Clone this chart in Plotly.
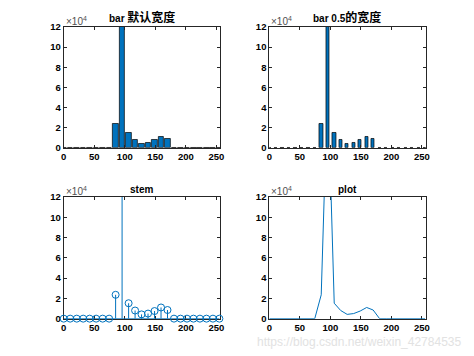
import plotly.graph_objects as go

# histogram bin centres (imhist with 25 bins) and pixel counts
bin_centers = [0, 10.6, 21.3, 31.9, 42.5, 53.1, 63.8, 74.4, 85, 95.6, 106.3, 116.9, 127.5,
               138.1, 148.8, 159.4, 170, 180.6, 191.3, 201.9, 212.5, 223.1, 233.8, 244.4, 255]
counts = [0, 0, 0, 0, 0, 0, 0, 0, 23500, 235000, 15200, 8000, 4200, 5000, 7500, 11000, 8500,
          0, 0, 0, 0, 0, 0, 0, 0]

titles = ["bar <span style='font-size:12px'>默认宽度</span>",
          "bar 0.5<span style='font-size:12px'>的宽度</span>", "stem", "plot"]
x_ticks = [0, 50, 100, 150, 200, 250]
y_ticks = [0, 20000, 40000, 60000, 80000, 100000, 120000]
y_tick_labels = ["0", "2", "4", "6", "8", "10", "12"]
x_range = [0, 256]
y_range = [0, 120000]

BLUE = "#0072BD"
AXC = "#262626"
FONT = "Liberation Sans, Arial, sans-serif"

spacing = bin_centers[1] - bin_centers[0]

doms_x = [[0.13, 0.4647], [0.5703, 0.905], [0.13, 0.4647], [0.5703, 0.905]]
doms_y = [[0.5888, 0.9396], [0.5888, 0.9396], [0.0938, 0.4466], [0.0938, 0.4466]]

fig = go.Figure()

# 1: bar default width
fig.add_trace(go.Bar(x=bin_centers, y=counts, width=spacing * 0.85,
                     marker=dict(color=BLUE, line=dict(color="black", width=0.7)),
                     xaxis="x", yaxis="y"))
# 2: bar width 0.5
fig.add_trace(go.Bar(x=bin_centers, y=counts, width=spacing * 0.5,
                     marker=dict(color=BLUE, line=dict(color="black", width=0.7)),
                     xaxis="x2", yaxis="y2"))
# 3: stem
sx, sy = [], []
for xv, yv in zip(bin_centers, counts):
    sx += [xv, xv, None]
    sy += [0, yv, None]
fig.add_trace(go.Scatter(x=sx, y=sy, mode="lines", line=dict(color=BLUE, width=1),
                         xaxis="x3", yaxis="y3"))
fig.add_trace(go.Scatter(x=[bin_centers[0], bin_centers[-1]], y=[0, 0], mode="lines",
                         line=dict(color=BLUE, width=1), xaxis="x3", yaxis="y3", cliponaxis=False))
mx = [xv for xv, yv in zip(bin_centers, counts) if yv <= y_range[1]]
my = [yv for yv in counts if yv <= y_range[1]]
fig.add_trace(go.Scatter(x=mx, y=my, mode="markers",
                         marker=dict(symbol="circle-open", size=7, color=BLUE, line=dict(width=1)),
                         xaxis="x3", yaxis="y3", cliponaxis=False))
# 4: plot
fig.add_trace(go.Scatter(x=bin_centers, y=counts, mode="lines", line=dict(color=BLUE, width=1),
                         xaxis="x4", yaxis="y4"))

layout = dict(width=474, height=356, margin=dict(l=0, r=0, t=0, b=0),
              paper_bgcolor="white", plot_bgcolor="white", showlegend=False,
              font=dict(family=FONT, size=10, color=AXC), bargap=0)

annotations = []
for i in range(4):
    sfx = "" if i == 0 else str(i + 1)
    layer = "above traces" if i < 2 else "below traces"
    layout["xaxis" + sfx] = dict(domain=doms_x[i], anchor="y" + sfx, range=x_range,
                                 tickvals=x_ticks, ticks="inside", ticklen=3, tickcolor=AXC,
                                 showline=True, linecolor=AXC, linewidth=1, mirror="ticks",
                                 showgrid=False, zeroline=False, layer=layer,
                                 tickfont=dict(family=FONT, size=9.5, color="black", weight="bold"))
    layout["yaxis" + sfx] = dict(domain=doms_y[i], anchor="x" + sfx, range=y_range,
                                 tickvals=y_ticks, ticktext=y_tick_labels, ticks="inside",
                                 ticklen=3, tickcolor=AXC, showline=True, linecolor=AXC,
                                 linewidth=1, mirror="ticks", showgrid=False, zeroline=False,
                                 layer=layer,
                                 tickfont=dict(family=FONT, size=9.5, color="black", weight="bold"))
    annotations.append(dict(text="<b>" + titles[i] + "</b>", xref="paper", yref="paper",
                            x=(doms_x[i][0] + doms_x[i][1]) / 2, y=doms_y[i][1],
                            xanchor="center", yanchor="bottom", yshift=0, showarrow=False,
                            font=dict(family="Liberation Sans, Noto Sans CJK SC, sans-serif",
                                      size=10, color="black")))
    annotations.append(dict(text="×10<sup>4</sup>", xref="paper", yref="paper",
                            x=doms_x[i][0], y=doms_y[i][1], xanchor="left", yanchor="bottom",
                            yshift=-2, showarrow=False,
                            font=dict(family=FONT, size=10, color="#505050")))

annotations.append(dict(text="https://blog.csdn.net/weixin_42784535", xref="paper", yref="paper",
                        x=0.985, y=0.027, xanchor="right", yanchor="middle", showarrow=False,
                        font=dict(family=FONT, size=12, color="#e2e2e2")))
layout["annotations"] = annotations
fig.update_layout(**layout)
fig.write_html("out.html", config={"displayModeBar": False},
               post_script="document.body.style.margin='0';")
